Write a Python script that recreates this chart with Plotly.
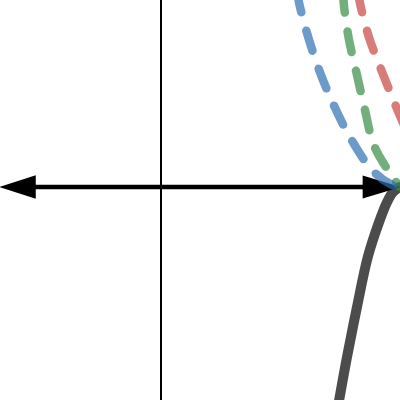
import plotly.graph_objects as go

# ---- data (math units) ----
blue_x = [3.40, 3.48, 3.70, 4.00, 4.35, 4.75, 5.28, 5.72, 5.97]
blue_y = [4.88, 4.48, 3.68, 2.80, 1.98, 1.20, 0.42, 0.08, 0.00]

green_x = [4.55, 4.58, 4.70, 4.90, 5.10, 5.32, 5.70, 5.97]
green_y = [4.88, 4.48, 3.68, 2.80, 1.92, 1.05, 0.38, 0.00]

red_x = [4.92, 5.00, 5.22, 5.55, 5.88, 6.10, 6.28]
red_y = [4.88, 4.48, 3.68, 2.82, 2.00, 1.48, 0.92]

gray_x = [5.97, 5.80, 5.65, 5.45, 5.17, 4.90, 4.65, 4.40]
gray_y = [0.00, -0.13, -0.38, -0.88, -1.75, -3.00, -4.25, -5.63]

x_range = [-4.025, 5.975]
y_range = [-5.325, 4.675]

fig = go.Figure()

fig.add_trace(go.Scatter(x=gray_x, y=gray_y, mode="lines",
                         line=dict(color="rgba(0,0,0,0.7)", width=10, shape="spline", smoothing=1.0),
                         hoverinfo="skip"))
fig.add_trace(go.Scatter(x=red_x, y=red_y, mode="lines",
                         line=dict(color="rgba(199,68,64,0.7)", width=8.5, shape="spline", dash="21px,19px"),
                         hoverinfo="skip"))
fig.add_trace(go.Scatter(x=green_x, y=green_y, mode="lines",
                         line=dict(color="rgba(56,140,70,0.7)", width=8.5, shape="spline", dash="21px,19px"),
                         hoverinfo="skip"))
fig.add_trace(go.Scatter(x=blue_x, y=blue_y, mode="lines",
                         line=dict(color="rgba(45,112,179,0.7)", width=8.5, shape="spline", dash="21px,19px"),
                         hoverinfo="skip"))

# horizontal axis with arrowheads
lt, lt_len = -3.98, 0.83
rt, rt_len = 5.93, 0.87
ah_half = 0.265
fig.add_shape(type="line", x0=lt + 0.5, x1=rt - 0.5, y0=0, y1=0,
              line=dict(color="black", width=4.5), layer="below")
fig.add_shape(type="path",
              path=f"M {lt},0 L {lt+lt_len},{ah_half} L {lt+lt_len},{-ah_half} Z",
              fillcolor="black", line=dict(color="black", width=1.5), layer="below")
fig.add_shape(type="path",
              path=f"M {rt},0 L {rt-rt_len},{ah_half} L {rt-rt_len},{-ah_half} Z",
              fillcolor="black", line=dict(color="black", width=1.5), layer="below")

fig.update_layout(
    width=400, height=400,
    margin=dict(l=0, r=0, t=0, b=0),
    paper_bgcolor="white", plot_bgcolor="white",
    showlegend=False,
    xaxis=dict(range=x_range, showgrid=False, showticklabels=False, ticks="",
               zeroline=True, zerolinecolor="black", zerolinewidth=2, fixedrange=True),
    yaxis=dict(range=y_range, showgrid=False, showticklabels=False, ticks="",
               zeroline=False, fixedrange=True),
)

post = """
document.body.style.margin='0';
document.documentElement.style.margin='0';
document.querySelectorAll('.js-line').forEach(function(e){
  e.style.strokeLinecap='round'; e.style.strokeLinejoin='round';
});
"""
fig.write_html("out.html", post_script=post, config={"staticPlot": True})
